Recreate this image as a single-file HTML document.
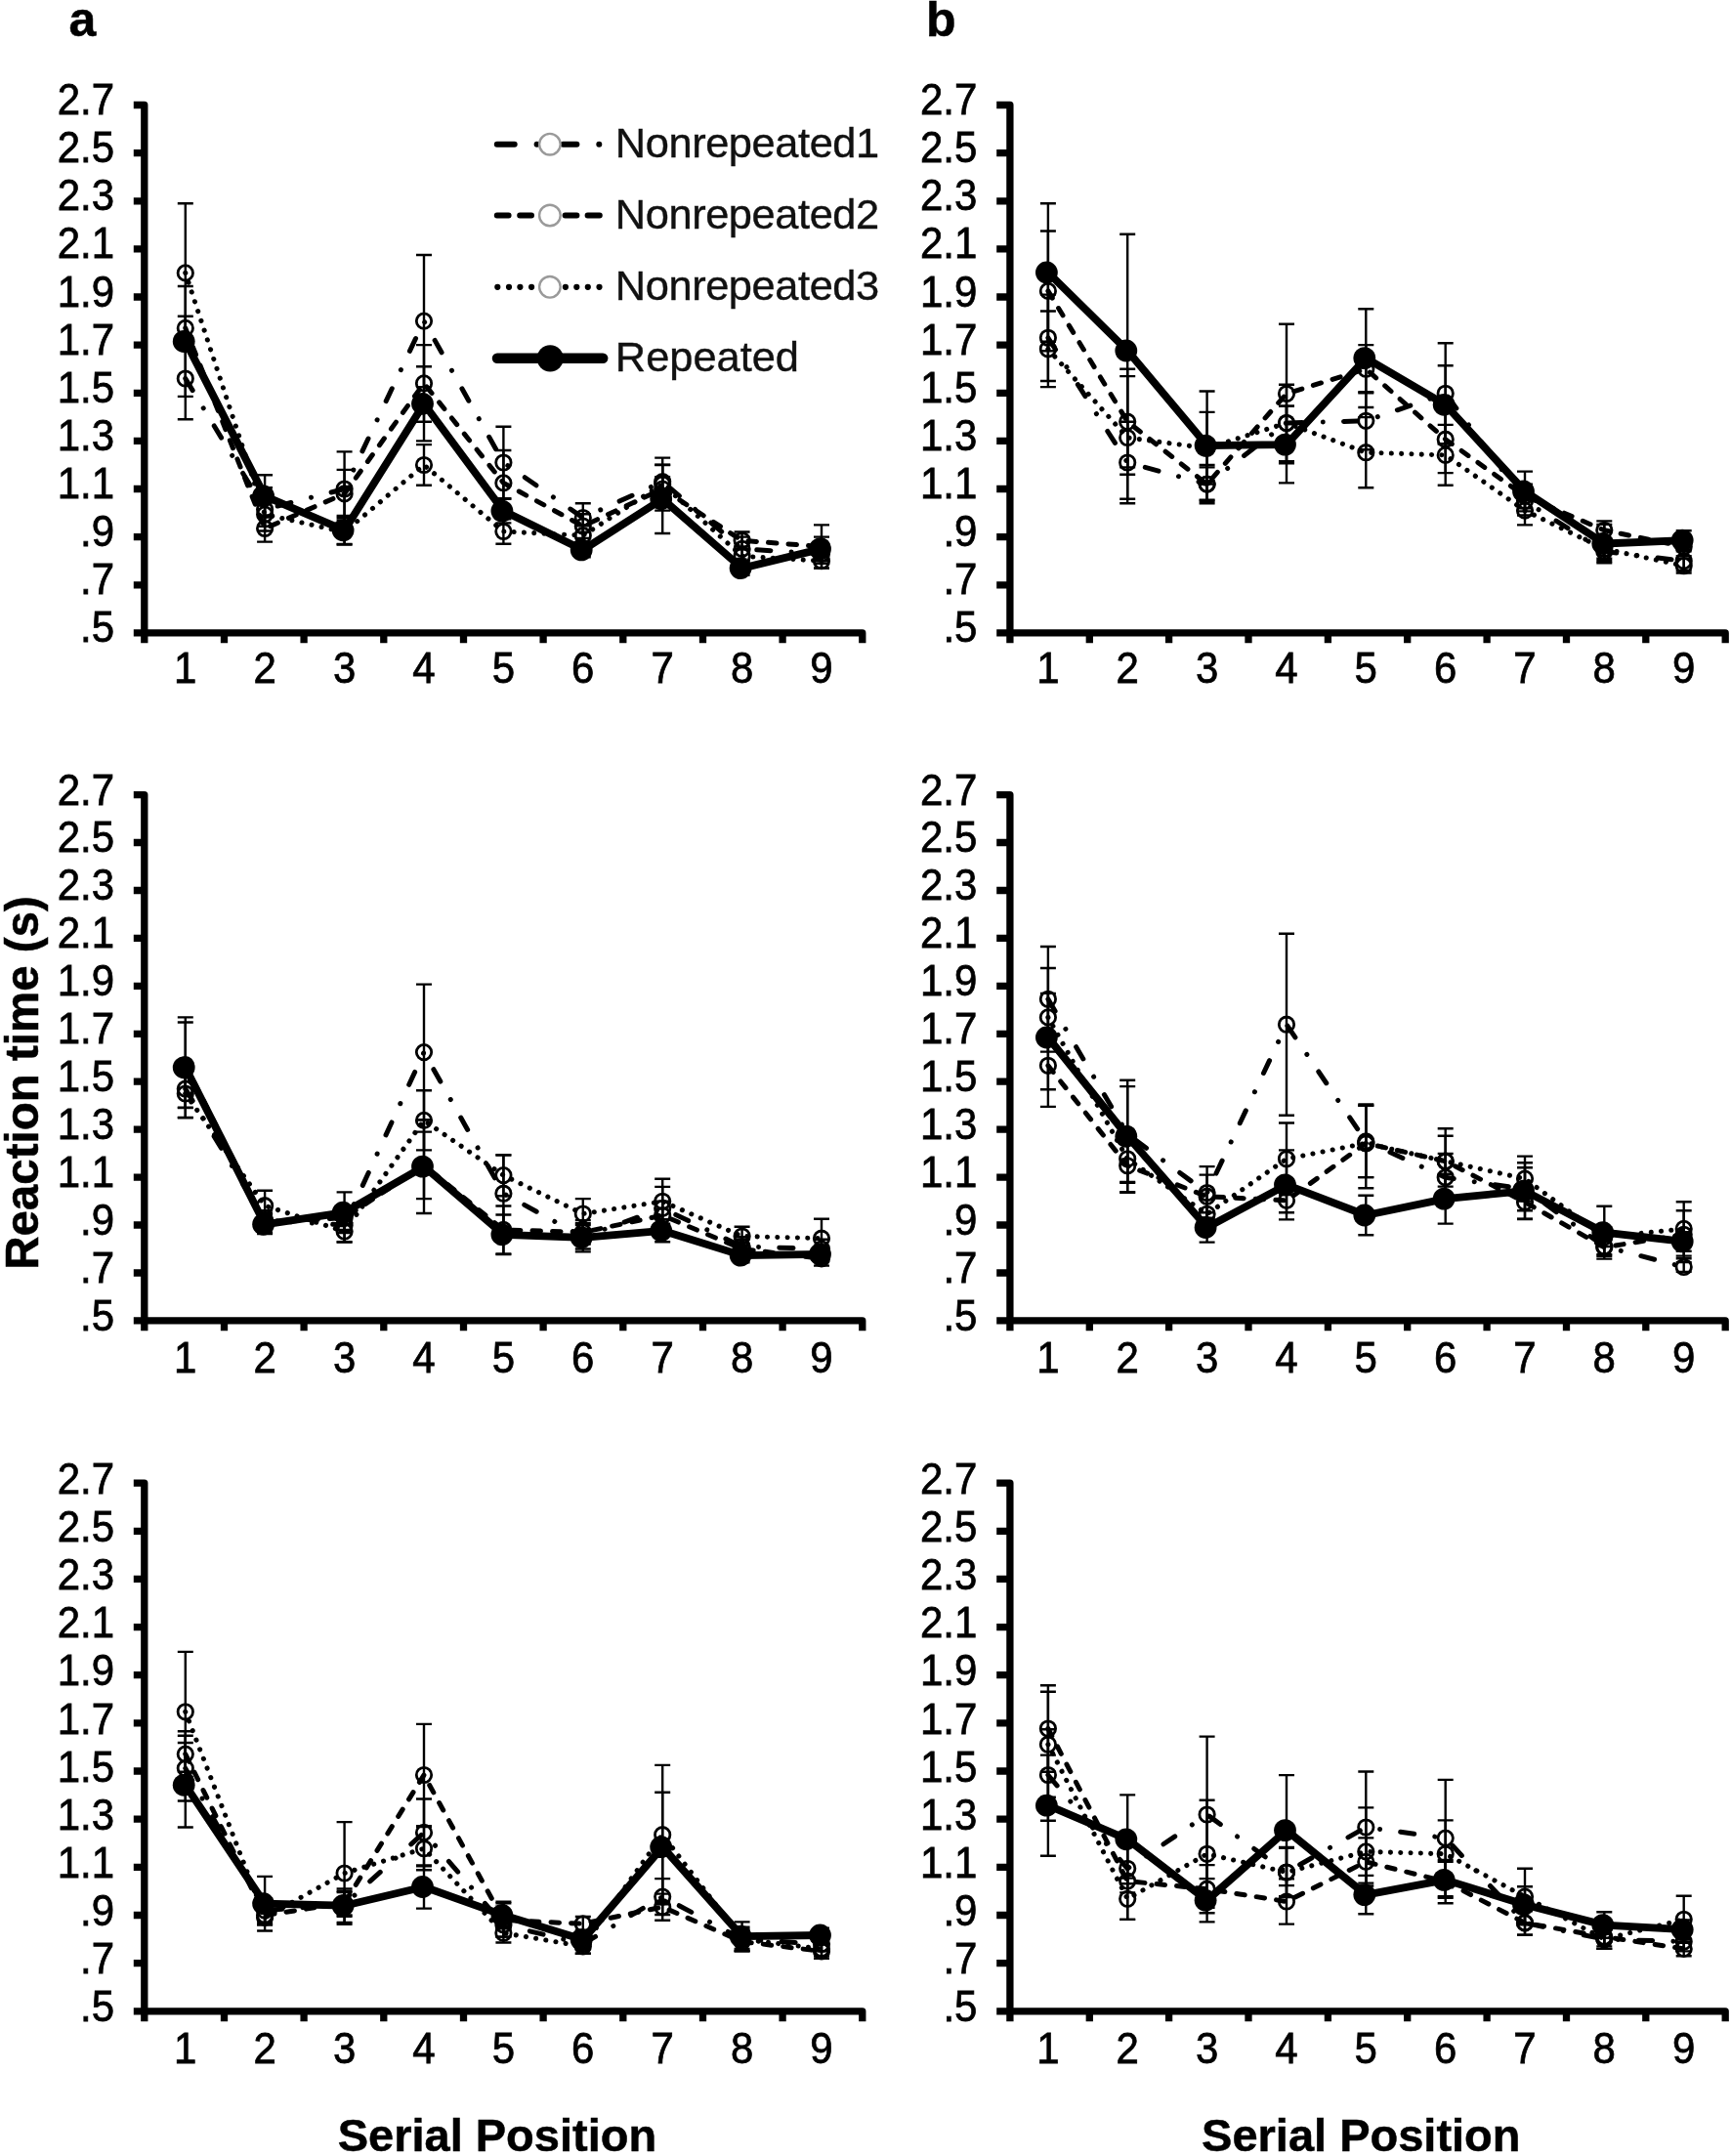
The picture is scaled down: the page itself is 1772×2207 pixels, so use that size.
<!DOCTYPE html>
<html lang="en"><head><meta charset="utf-8"><title>Reaction time by serial position</title>
<style>
html,body{margin:0;padding:0;background:#fff}
svg{display:block;filter:blur(.55px)}
text{font-family:"Liberation Sans",sans-serif;fill:#000}
.t{font-size:42px;stroke:#000;stroke-width:.7px}
.lt{font-size:43.4px;fill:#111;stroke:#111;stroke-width:.4px}
.b{font-weight:700;stroke:#000;stroke-width:.5px}
.ln{fill:none;stroke:#000}
.eb{fill:none;stroke:#000;stroke-width:2.4}
.om{fill:none;stroke:#000;stroke-width:2.8}
.fm{fill:#000}
.ax{fill:none;stroke:#000;stroke-width:7.3;stroke-linejoin:round}
</style></head><body>
<svg width="1772" height="2207" viewBox="0 0 1772 2207">
<rect width="1772" height="2207" fill="#fff"/>
<g>
<polyline class="ln" stroke-width="5" stroke-linecap="round" stroke-dasharray="14.2 21.25 0.01 21.25" points="189.8,387.5 271.1,521.4 352.6,500.5 434,328.6 515.4,473.5 596.8,530 678.2,493.1 759.6,561.9 841,566.8"/>
<polyline class="ln" stroke-width="5" stroke-linecap="round" stroke-dasharray="8.5 12.1" points="189.8,335.9 271.1,541 352.6,505.4 434,392.4 515.4,494.4 596.8,538.6 678.2,500.5 759.6,553.3 841,559.5"/>
<polyline class="ln" stroke-width="5.1" stroke-linecap="round" stroke-dasharray="0.01 10.3" points="189.8,279.4 271.1,526.6 352.6,544.7 434,476 515.4,544 596.8,548.2 678.2,495.6 759.6,569.3 841,574.2"/>
<polyline class="ln" stroke-width="7.8" stroke-linejoin="round" stroke-linecap="round" points="189.8,349.5 271.1,507.9 352.6,542.8 434,413.3 515.4,523.1 596.8,562.9 678.2,510.8 759.6,581.6 841,561.9"/>
<path class="eb" d="M189.8 345.8V429.3M181.8 345.8h16M181.8 429.3h16M271.1 499.3V543.5M263.1 499.3h16M263.1 543.5h16M352.6 462.4V538.6M344.6 462.4h16M344.6 538.6h16M434 261V396.1M426 261h16M426 396.1h16M515.4 436.7V510.3M507.4 436.7h16M507.4 510.3h16M596.8 515.3V544.7M588.8 515.3h16M588.8 544.7h16M678.2 476V510.3M670.2 476h16M670.2 510.3h16M759.6 549.6V574.2M751.6 549.6h16M751.6 574.2h16M841 557V576.7M833 557h16M833 576.7h16"/>
<path class="eb" d="M189.8 323.7V348.2M181.8 323.7h16M181.8 348.2h16M271.1 527.5V554.6M263.1 527.5h16M263.1 554.6h16M352.6 480.9V530M344.6 480.9h16M344.6 530h16M434 353.1V431.7M426 353.1h16M426 431.7h16M515.4 461V527.8M507.4 461h16M507.4 527.8h16M596.8 526.3V550.9M588.8 526.3h16M588.8 550.9h16M678.2 488.2V512.8M670.2 488.2h16M670.2 512.8h16M759.6 544.5V562.2M751.6 544.5h16M751.6 562.2h16M841 537.4V581.6M833 537.4h16M833 581.6h16"/>
<path class="eb" d="M189.8 208.2V350.7M181.8 208.2h16M181.8 350.7h16M271.1 514.3V538.8M263.1 514.3h16M263.1 538.8h16M352.6 532.5V557M344.6 532.5h16M344.6 557h16M434 455.1V496.8M426 455.1h16M426 496.8h16M515.4 531.2V556.8M507.4 531.2h16M507.4 556.8h16M596.8 538.3V558M588.8 538.3h16M588.8 558h16M678.2 468.6V522.6M670.2 468.6h16M670.2 522.6h16M759.6 559.5V579.1M751.6 559.5h16M751.6 579.1h16M841 566.8V581.6M833 566.8h16M833 581.6h16"/>
<path class="eb" d="M189.8 293V405.9M181.8 293h16M181.8 405.9h16M271.1 486.3V529.5M263.1 486.3h16M263.1 529.5h16M352.6 528V557.5M344.6 528h16M344.6 557.5h16M434 375.2V451.4M426 375.2h16M426 451.4h16M515.4 510.8V535.4M507.4 510.8h16M507.4 535.4h16M596.8 555.5V570.3M588.8 555.5h16M588.8 570.3h16M678.2 475.7V546M670.2 475.7h16M670.2 546h16M759.6 574.2V588.9M751.6 574.2h16M751.6 588.9h16M841 549.6V574.2M833 549.6h16M833 574.2h16"/>
<circle class="om" cx="189.8" cy="387.5" r="7.7"/>
<circle class="om" cx="271.1" cy="521.4" r="7.7"/>
<circle class="om" cx="352.6" cy="500.5" r="7.7"/>
<circle class="om" cx="434" cy="328.6" r="7.7"/>
<circle class="om" cx="515.4" cy="473.5" r="7.7"/>
<circle class="om" cx="596.8" cy="530" r="7.7"/>
<circle class="om" cx="678.2" cy="493.1" r="7.7"/>
<circle class="om" cx="759.6" cy="561.9" r="7.7"/>
<circle class="om" cx="841" cy="566.8" r="7.7"/>
<circle class="om" cx="189.8" cy="335.9" r="7.7"/>
<circle class="om" cx="271.1" cy="541" r="7.7"/>
<circle class="om" cx="352.6" cy="505.4" r="7.7"/>
<circle class="om" cx="434" cy="392.4" r="7.7"/>
<circle class="om" cx="515.4" cy="494.4" r="7.7"/>
<circle class="om" cx="596.8" cy="538.6" r="7.7"/>
<circle class="om" cx="678.2" cy="500.5" r="7.7"/>
<circle class="om" cx="759.6" cy="553.3" r="7.7"/>
<circle class="om" cx="841" cy="559.5" r="7.7"/>
<circle class="om" cx="189.8" cy="279.4" r="7.7"/>
<circle class="om" cx="271.1" cy="526.6" r="7.7"/>
<circle class="om" cx="352.6" cy="544.7" r="7.7"/>
<circle class="om" cx="434" cy="476" r="7.7"/>
<circle class="om" cx="515.4" cy="544" r="7.7"/>
<circle class="om" cx="596.8" cy="548.2" r="7.7"/>
<circle class="om" cx="678.2" cy="495.6" r="7.7"/>
<circle class="om" cx="759.6" cy="569.3" r="7.7"/>
<circle class="om" cx="841" cy="574.2" r="7.7"/>
<circle class="fm" cx="188.2" cy="349.5" r="11.4"/>
<circle class="fm" cx="269.6" cy="507.9" r="11.4"/>
<circle class="fm" cx="351.1" cy="542.8" r="11.4"/>
<circle class="fm" cx="432.5" cy="413.3" r="11.4"/>
<circle class="fm" cx="513.9" cy="523.1" r="11.4"/>
<circle class="fm" cx="595.2" cy="562.9" r="11.4"/>
<circle class="fm" cx="676.7" cy="510.8" r="11.4"/>
<circle class="fm" cx="758.1" cy="581.6" r="11.4"/>
<circle class="fm" cx="839.5" cy="561.9" r="11.4"/>
<path class="ax" d="M136.8 107.5H147.8V658.3M136.8 647.9H882.8V658.3M136.8 156.6H147.8M136.8 205.8H147.8M136.8 254.9H147.8M136.8 304H147.8M136.8 353.1H147.8M136.8 402.3H147.8M136.8 451.4H147.8M136.8 500.5H147.8M136.8 549.6H147.8M136.8 598.8H147.8M229.5 647.9V658.3M311.1 647.9V658.3M392.8 647.9V658.3M474.5 647.9V658.3M556.1 647.9V658.3M637.8 647.9V658.3M719.5 647.9V658.3M801.1 647.9V658.3"/>
<text class="t" text-anchor="end" transform="translate(117.1 117) scale(1 1.075)">2.7</text>
<text class="t" text-anchor="end" transform="translate(117.1 166.1) scale(1 1.075)">2.5</text>
<text class="t" text-anchor="end" transform="translate(117.1 215.3) scale(1 1.075)">2.3</text>
<text class="t" text-anchor="end" transform="translate(117.1 264.4) scale(1 1.075)">2.1</text>
<text class="t" text-anchor="end" transform="translate(117.1 313.5) scale(1 1.075)">1.9</text>
<text class="t" text-anchor="end" transform="translate(117.1 362.6) scale(1 1.075)">1.7</text>
<text class="t" text-anchor="end" transform="translate(117.1 411.8) scale(1 1.075)">1.5</text>
<text class="t" text-anchor="end" transform="translate(117.1 460.9) scale(1 1.075)">1.3</text>
<text class="t" text-anchor="end" transform="translate(117.1 510) scale(1 1.075)">1.1</text>
<text class="t" text-anchor="end" transform="translate(117.1 559.1) scale(1 1.075)">.9</text>
<text class="t" text-anchor="end" transform="translate(117.1 608.3) scale(1 1.075)">.7</text>
<text class="t" text-anchor="end" transform="translate(117.1 657.4) scale(1 1.075)">.5</text>
<text class="t" text-anchor="middle" transform="translate(189.8 698.5) scale(1 1.075)">1</text>
<text class="t" text-anchor="middle" transform="translate(271.1 698.5) scale(1 1.075)">2</text>
<text class="t" text-anchor="middle" transform="translate(352.6 698.5) scale(1 1.075)">3</text>
<text class="t" text-anchor="middle" transform="translate(434 698.5) scale(1 1.075)">4</text>
<text class="t" text-anchor="middle" transform="translate(515.4 698.5) scale(1 1.075)">5</text>
<text class="t" text-anchor="middle" transform="translate(596.8 698.5) scale(1 1.075)">6</text>
<text class="t" text-anchor="middle" transform="translate(678.2 698.5) scale(1 1.075)">7</text>
<text class="t" text-anchor="middle" transform="translate(759.6 698.5) scale(1 1.075)">8</text>
<text class="t" text-anchor="middle" transform="translate(841 698.5) scale(1 1.075)">9</text>
</g>
<g>
<polyline class="ln" stroke-width="5" stroke-linecap="round" stroke-dasharray="14.2 21.25 0.01 21.25" points="189.8,1114.6 271.1,1249.1 352.6,1254 434,1077.1 515.4,1221.7 596.8,1266.3 678.2,1236.9 759.6,1276 841,1278.5"/>
<polyline class="ln" stroke-width="5" stroke-linecap="round" stroke-dasharray="8.5 12.1" points="189.8,1090.1 271.1,1251.6 352.6,1246.7 434,1192.9 515.4,1258.9 596.8,1261.4 678.2,1244.2 759.6,1278.5 841,1288.3"/>
<polyline class="ln" stroke-width="5.1" stroke-linecap="round" stroke-dasharray="0.01 10.3" points="189.8,1119.5 271.1,1234.2 352.6,1260.6 434,1146.9 515.4,1203.1 596.8,1242.5 678.2,1229.8 759.6,1265.5 841,1267.7"/>
<polyline class="ln" stroke-width="7.8" stroke-linejoin="round" stroke-linecap="round" points="189.8,1092.8 271.1,1253.3 352.6,1241.2 434,1194.1 515.4,1263.8 596.8,1266.8 678.2,1259.8 759.6,1285.1 841,1283.9"/>
<path class="eb" d="M189.8 1095V1134.1M181.8 1095h16M181.8 1134.1h16M271.1 1239.3V1258.9M263.1 1239.3h16M263.1 1258.9h16M352.6 1236.9V1271.2M344.6 1236.9h16M344.6 1271.2h16M434 1007.6V1146.6M426 1007.6h16M426 1146.6h16M515.4 1182.6V1260.9M507.4 1182.6h16M507.4 1260.9h16M596.8 1254V1278.5M588.8 1254h16M588.8 1278.5h16M678.2 1214.9V1258.9M670.2 1214.9h16M670.2 1258.9h16M759.6 1266.3V1285.8M751.6 1266.3h16M751.6 1285.8h16M841 1268.7V1288.3M833 1268.7h16M833 1288.3h16"/>
<path class="eb" d="M189.8 1046.5V1133.6M181.8 1046.5h16M181.8 1133.6h16M271.1 1241.8V1261.4M263.1 1241.8h16M263.1 1261.4h16M352.6 1234.5V1258.9M344.6 1234.5h16M344.6 1258.9h16M434 1158.6V1227.1M426 1158.6h16M426 1227.1h16M515.4 1234.5V1283.4M507.4 1234.5h16M507.4 1283.4h16M596.8 1249.1V1273.6M588.8 1249.1h16M588.8 1273.6h16M678.2 1229.6V1258.9M670.2 1229.6h16M670.2 1258.9h16M759.6 1268.7V1288.3M751.6 1268.7h16M751.6 1288.3h16M841 1280.9V1295.6M833 1280.9h16M833 1295.6h16"/>
<path class="eb" d="M189.8 1095V1143.9M181.8 1095h16M181.8 1143.9h16M271.1 1218.8V1249.6M263.1 1218.8h16M263.1 1249.6h16M352.6 1249.6V1271.6M344.6 1249.6h16M344.6 1271.6h16M434 1116.3V1177.4M426 1116.3h16M426 1177.4h16M515.4 1182.1V1224.2M507.4 1182.1h16M507.4 1224.2h16M596.8 1227.1V1257.9M588.8 1227.1h16M588.8 1257.9h16M678.2 1206.8V1252.8M670.2 1206.8h16M670.2 1252.8h16M759.6 1255.7V1275.3M751.6 1255.7h16M751.6 1275.3h16M841 1247.7V1287.8M833 1247.7h16M833 1287.8h16"/>
<path class="eb" d="M189.8 1041.4V1144.2M181.8 1041.4h16M181.8 1144.2h16M271.1 1243.5V1263.1M263.1 1243.5h16M263.1 1263.1h16M352.6 1220.4V1262M344.6 1220.4h16M344.6 1262h16M434 1146.1V1242M426 1146.1h16M426 1242h16M515.4 1243.5V1284.1M507.4 1243.5h16M507.4 1284.1h16M596.8 1252.1V1281.4M588.8 1252.1h16M588.8 1281.4h16M678.2 1248.3V1271.3M670.2 1248.3h16M670.2 1271.3h16M759.6 1277.8V1292.4M751.6 1277.8h16M751.6 1292.4h16M841 1276.5V1291.2M833 1276.5h16M833 1291.2h16"/>
<circle class="om" cx="189.8" cy="1114.6" r="7.7"/>
<circle class="om" cx="271.1" cy="1249.1" r="7.7"/>
<circle class="om" cx="352.6" cy="1254" r="7.7"/>
<circle class="om" cx="434" cy="1077.1" r="7.7"/>
<circle class="om" cx="515.4" cy="1221.7" r="7.7"/>
<circle class="om" cx="596.8" cy="1266.3" r="7.7"/>
<circle class="om" cx="678.2" cy="1236.9" r="7.7"/>
<circle class="om" cx="759.6" cy="1276" r="7.7"/>
<circle class="om" cx="841" cy="1278.5" r="7.7"/>
<circle class="om" cx="189.8" cy="1090.1" r="7.7"/>
<circle class="om" cx="271.1" cy="1251.6" r="7.7"/>
<circle class="om" cx="352.6" cy="1246.7" r="7.7"/>
<circle class="om" cx="434" cy="1192.9" r="7.7"/>
<circle class="om" cx="515.4" cy="1258.9" r="7.7"/>
<circle class="om" cx="596.8" cy="1261.4" r="7.7"/>
<circle class="om" cx="678.2" cy="1244.2" r="7.7"/>
<circle class="om" cx="759.6" cy="1278.5" r="7.7"/>
<circle class="om" cx="841" cy="1288.3" r="7.7"/>
<circle class="om" cx="189.8" cy="1119.5" r="7.7"/>
<circle class="om" cx="271.1" cy="1234.2" r="7.7"/>
<circle class="om" cx="352.6" cy="1260.6" r="7.7"/>
<circle class="om" cx="434" cy="1146.9" r="7.7"/>
<circle class="om" cx="515.4" cy="1203.1" r="7.7"/>
<circle class="om" cx="596.8" cy="1242.5" r="7.7"/>
<circle class="om" cx="678.2" cy="1229.8" r="7.7"/>
<circle class="om" cx="759.6" cy="1265.5" r="7.7"/>
<circle class="om" cx="841" cy="1267.7" r="7.7"/>
<circle class="fm" cx="188.2" cy="1092.8" r="11.4"/>
<circle class="fm" cx="269.6" cy="1253.3" r="11.4"/>
<circle class="fm" cx="351.1" cy="1241.2" r="11.4"/>
<circle class="fm" cx="432.5" cy="1194.1" r="11.4"/>
<circle class="fm" cx="513.9" cy="1263.8" r="11.4"/>
<circle class="fm" cx="595.2" cy="1266.8" r="11.4"/>
<circle class="fm" cx="676.7" cy="1259.8" r="11.4"/>
<circle class="fm" cx="758.1" cy="1285.1" r="11.4"/>
<circle class="fm" cx="839.5" cy="1283.9" r="11.4"/>
<path class="ax" d="M136.8 813.6H147.8V1362.3M136.8 1351.9H882.8V1362.3M136.8 862.5H147.8M136.8 911.5H147.8M136.8 960.4H147.8M136.8 1009.3H147.8M136.8 1058.3H147.8M136.8 1107.2H147.8M136.8 1156.2H147.8M136.8 1205.1H147.8M136.8 1254H147.8M136.8 1303H147.8M229.5 1351.9V1362.3M311.1 1351.9V1362.3M392.8 1351.9V1362.3M474.5 1351.9V1362.3M556.1 1351.9V1362.3M637.8 1351.9V1362.3M719.5 1351.9V1362.3M801.1 1351.9V1362.3"/>
<text class="t" text-anchor="end" transform="translate(117.1 823.5) scale(1 1.075)">2.7</text>
<text class="t" text-anchor="end" transform="translate(117.1 872.4) scale(1 1.075)">2.5</text>
<text class="t" text-anchor="end" transform="translate(117.1 921.4) scale(1 1.075)">2.3</text>
<text class="t" text-anchor="end" transform="translate(117.1 970.3) scale(1 1.075)">2.1</text>
<text class="t" text-anchor="end" transform="translate(117.1 1019.2) scale(1 1.075)">1.9</text>
<text class="t" text-anchor="end" transform="translate(117.1 1068.2) scale(1 1.075)">1.7</text>
<text class="t" text-anchor="end" transform="translate(117.1 1117.1) scale(1 1.075)">1.5</text>
<text class="t" text-anchor="end" transform="translate(117.1 1166.1) scale(1 1.075)">1.3</text>
<text class="t" text-anchor="end" transform="translate(117.1 1215) scale(1 1.075)">1.1</text>
<text class="t" text-anchor="end" transform="translate(117.1 1263.9) scale(1 1.075)">.9</text>
<text class="t" text-anchor="end" transform="translate(117.1 1312.9) scale(1 1.075)">.7</text>
<text class="t" text-anchor="end" transform="translate(117.1 1361.8) scale(1 1.075)">.5</text>
<text class="t" text-anchor="middle" transform="translate(189.8 1405.1) scale(1 1.075)">1</text>
<text class="t" text-anchor="middle" transform="translate(271.1 1405.1) scale(1 1.075)">2</text>
<text class="t" text-anchor="middle" transform="translate(352.6 1405.1) scale(1 1.075)">3</text>
<text class="t" text-anchor="middle" transform="translate(434 1405.1) scale(1 1.075)">4</text>
<text class="t" text-anchor="middle" transform="translate(515.4 1405.1) scale(1 1.075)">5</text>
<text class="t" text-anchor="middle" transform="translate(596.8 1405.1) scale(1 1.075)">6</text>
<text class="t" text-anchor="middle" transform="translate(678.2 1405.1) scale(1 1.075)">7</text>
<text class="t" text-anchor="middle" transform="translate(759.6 1405.1) scale(1 1.075)">8</text>
<text class="t" text-anchor="middle" transform="translate(841 1405.1) scale(1 1.075)">9</text>
</g>
<g>
<polyline class="ln" stroke-width="5" stroke-linecap="round" stroke-dasharray="14.2 21.25 0.01 21.25" points="189.8,1810.1 271.1,1955.6 352.6,1949.4 434,1875.9 515.4,1970.3 596.8,1990 678.2,1941.6 759.6,1985.1 841,1990"/>
<polyline class="ln" stroke-width="5" stroke-linecap="round" stroke-dasharray="8.5 12.1" points="189.8,1795.6 271.1,1960.5 352.6,1948.2 434,1817 515.4,1965.4 596.8,1969.3 678.2,1952.1 759.6,1987.5 841,1997.4"/>
<polyline class="ln" stroke-width="5.1" stroke-linecap="round" stroke-dasharray="0.01 10.3" points="189.8,1752.3 271.1,1962.9 352.6,1917.5 434,1892.2 515.4,1978.7 596.8,1992.4 678.2,1878.2 759.6,1985.1 841,1994.9"/>
<polyline class="ln" stroke-width="7.8" stroke-linejoin="round" stroke-linecap="round" points="189.8,1827.3 271.1,1948.7 352.6,1950.7 434,1931.5 515.4,1960.5 596.8,1985.6 678.2,1890.7 759.6,1982.1 841,1981"/>
<path class="eb" d="M189.8 1776.7V1843.5M181.8 1776.7h16M181.8 1843.5h16M271.1 1943.3V1967.9M263.1 1943.3h16M263.1 1967.9h16M352.6 1937.1V1961.7M344.6 1937.1h16M344.6 1961.7h16M434 1841.5V1910.4M426 1841.5h16M426 1910.4h16M515.4 1958V1982.6M507.4 1958h16M507.4 1982.6h16M596.8 1980.2V1999.8M588.8 1980.2h16M588.8 1999.8h16M678.2 1923.1V1960M670.2 1923.1h16M670.2 1960h16M759.6 1975.2V1994.9M751.6 1975.2h16M751.6 1994.9h16M841 1982.6V1997.4M833 1982.6h16M833 1997.4h16"/>
<path class="eb" d="M189.8 1772.2V1818.9M181.8 1772.2h16M181.8 1818.9h16M271.1 1950.7V1970.3M263.1 1950.7h16M263.1 1970.3h16M352.6 1935.9V1960.5M344.6 1935.9h16M344.6 1960.5h16M434 1764.9V1869.1M426 1764.9h16M426 1869.1h16M515.4 1948.2V1982.6M507.4 1948.2h16M507.4 1982.6h16M596.8 1962V1976.7M588.8 1962h16M588.8 1976.7h16M678.2 1938.6V1965.7M670.2 1938.6h16M670.2 1965.7h16M759.6 1977.7V1997.4M751.6 1977.7h16M751.6 1997.4h16M841 1990V2004.7M833 1990h16M833 2004.7h16"/>
<path class="eb" d="M189.8 1690.9V1813.8M181.8 1690.9h16M181.8 1813.8h16M271.1 1955.6V1970.3M263.1 1955.6h16M263.1 1970.3h16M352.6 1865.1V1969.8M344.6 1865.1h16M344.6 1969.8h16M434 1870V1914.3M426 1870h16M426 1914.3h16M515.4 1968.8V1988.5M507.4 1968.8h16M507.4 1988.5h16M596.8 1985.1V1999.8M588.8 1985.1h16M588.8 1999.8h16M678.2 1806.9V1949.4M670.2 1806.9h16M670.2 1949.4h16M759.6 1972.8V1997.4M751.6 1972.8h16M751.6 1997.4h16M841 1987.5V2002.3M833 1987.5h16M833 2002.3h16"/>
<path class="eb" d="M189.8 1784V1870.5M181.8 1784h16M181.8 1870.5h16M271.1 1920.9V1976.5M263.1 1920.9h16M263.1 1976.5h16M352.6 1933.5V1967.9M344.6 1933.5h16M344.6 1967.9h16M434 1909.4V1953.6M426 1909.4h16M426 1953.6h16M515.4 1946.7V1974.3M507.4 1946.7h16M507.4 1974.3h16M596.8 1975.7V1995.4M588.8 1975.7h16M588.8 1995.4h16M678.2 1834.7V1946.7M670.2 1834.7h16M670.2 1946.7h16M759.6 1967.4V1996.9M751.6 1967.4h16M751.6 1996.9h16M841 1973.6V1988.4M833 1973.6h16M833 1988.4h16"/>
<circle class="om" cx="189.8" cy="1810.1" r="7.7"/>
<circle class="om" cx="271.1" cy="1955.6" r="7.7"/>
<circle class="om" cx="352.6" cy="1949.4" r="7.7"/>
<circle class="om" cx="434" cy="1875.9" r="7.7"/>
<circle class="om" cx="515.4" cy="1970.3" r="7.7"/>
<circle class="om" cx="596.8" cy="1990" r="7.7"/>
<circle class="om" cx="678.2" cy="1941.6" r="7.7"/>
<circle class="om" cx="759.6" cy="1985.1" r="7.7"/>
<circle class="om" cx="841" cy="1990" r="7.7"/>
<circle class="om" cx="189.8" cy="1795.6" r="7.7"/>
<circle class="om" cx="271.1" cy="1960.5" r="7.7"/>
<circle class="om" cx="352.6" cy="1948.2" r="7.7"/>
<circle class="om" cx="434" cy="1817" r="7.7"/>
<circle class="om" cx="515.4" cy="1965.4" r="7.7"/>
<circle class="om" cx="596.8" cy="1969.3" r="7.7"/>
<circle class="om" cx="678.2" cy="1952.1" r="7.7"/>
<circle class="om" cx="759.6" cy="1987.5" r="7.7"/>
<circle class="om" cx="841" cy="1997.4" r="7.7"/>
<circle class="om" cx="189.8" cy="1752.3" r="7.7"/>
<circle class="om" cx="271.1" cy="1962.9" r="7.7"/>
<circle class="om" cx="352.6" cy="1917.5" r="7.7"/>
<circle class="om" cx="434" cy="1892.2" r="7.7"/>
<circle class="om" cx="515.4" cy="1978.7" r="7.7"/>
<circle class="om" cx="596.8" cy="1992.4" r="7.7"/>
<circle class="om" cx="678.2" cy="1878.2" r="7.7"/>
<circle class="om" cx="759.6" cy="1985.1" r="7.7"/>
<circle class="om" cx="841" cy="1994.9" r="7.7"/>
<circle class="fm" cx="188.2" cy="1827.3" r="11.4"/>
<circle class="fm" cx="269.6" cy="1948.7" r="11.4"/>
<circle class="fm" cx="351.1" cy="1950.7" r="11.4"/>
<circle class="fm" cx="432.5" cy="1931.5" r="11.4"/>
<circle class="fm" cx="513.9" cy="1960.5" r="11.4"/>
<circle class="fm" cx="595.2" cy="1985.6" r="11.4"/>
<circle class="fm" cx="676.7" cy="1890.7" r="11.4"/>
<circle class="fm" cx="758.1" cy="1982.1" r="11.4"/>
<circle class="fm" cx="839.5" cy="1981" r="11.4"/>
<path class="ax" d="M136.8 1518.1H147.8V2069.2M136.8 2058.8H882.8V2069.2M136.8 1567.3H147.8M136.8 1616.4H147.8M136.8 1665.6H147.8M136.8 1714.7H147.8M136.8 1763.9H147.8M136.8 1813H147.8M136.8 1862.2H147.8M136.8 1911.3H147.8M136.8 1960.5H147.8M136.8 2009.6H147.8M229.5 2058.8V2069.2M311.1 2058.8V2069.2M392.8 2058.8V2069.2M474.5 2058.8V2069.2M556.1 2058.8V2069.2M637.8 2058.8V2069.2M719.5 2058.8V2069.2M801.1 2058.8V2069.2"/>
<text class="t" text-anchor="end" transform="translate(117.1 1528.7) scale(1 1.075)">2.7</text>
<text class="t" text-anchor="end" transform="translate(117.1 1577.9) scale(1 1.075)">2.5</text>
<text class="t" text-anchor="end" transform="translate(117.1 1627) scale(1 1.075)">2.3</text>
<text class="t" text-anchor="end" transform="translate(117.1 1676.2) scale(1 1.075)">2.1</text>
<text class="t" text-anchor="end" transform="translate(117.1 1725.3) scale(1 1.075)">1.9</text>
<text class="t" text-anchor="end" transform="translate(117.1 1774.5) scale(1 1.075)">1.7</text>
<text class="t" text-anchor="end" transform="translate(117.1 1823.6) scale(1 1.075)">1.5</text>
<text class="t" text-anchor="end" transform="translate(117.1 1872.8) scale(1 1.075)">1.3</text>
<text class="t" text-anchor="end" transform="translate(117.1 1921.9) scale(1 1.075)">1.1</text>
<text class="t" text-anchor="end" transform="translate(117.1 1971.1) scale(1 1.075)">.9</text>
<text class="t" text-anchor="end" transform="translate(117.1 2020.2) scale(1 1.075)">.7</text>
<text class="t" text-anchor="end" transform="translate(117.1 2069.4) scale(1 1.075)">.5</text>
<text class="t" text-anchor="middle" transform="translate(189.8 2111.6) scale(1 1.075)">1</text>
<text class="t" text-anchor="middle" transform="translate(271.1 2111.6) scale(1 1.075)">2</text>
<text class="t" text-anchor="middle" transform="translate(352.6 2111.6) scale(1 1.075)">3</text>
<text class="t" text-anchor="middle" transform="translate(434 2111.6) scale(1 1.075)">4</text>
<text class="t" text-anchor="middle" transform="translate(515.4 2111.6) scale(1 1.075)">5</text>
<text class="t" text-anchor="middle" transform="translate(596.8 2111.6) scale(1 1.075)">6</text>
<text class="t" text-anchor="middle" transform="translate(678.2 2111.6) scale(1 1.075)">7</text>
<text class="t" text-anchor="middle" transform="translate(759.6 2111.6) scale(1 1.075)">8</text>
<text class="t" text-anchor="middle" transform="translate(841 2111.6) scale(1 1.075)">9</text>
</g>
<g>
<polyline class="ln" stroke-width="5" stroke-linecap="round" stroke-dasharray="14.2 21.25 0.01 21.25" points="1072.9,345.8 1154.2,473.5 1235.6,495.6 1317,433 1398.3,430.8 1479.7,402.8 1561,512.8 1642.3,564.4 1723.7,574.2"/>
<polyline class="ln" stroke-width="5" stroke-linecap="round" stroke-dasharray="8.5 12.1" points="1072.9,297.9 1154.2,431.7 1235.6,495.6 1317,403 1398.3,377.7 1479.7,449.7 1561,507.9 1642.3,542.8 1723.7,559.5"/>
<polyline class="ln" stroke-width="5.1" stroke-linecap="round" stroke-dasharray="0.01 10.3" points="1072.9,357.3 1154.2,448 1235.6,458.8 1317,433 1398.3,463.2 1479.7,465.9 1561,522.6 1642.3,561.9 1723.7,579.1"/>
<polyline class="ln" stroke-width="7.8" stroke-linejoin="round" stroke-linecap="round" points="1072.9,279 1154.2,359 1235.6,456.1 1317,455.1 1398.3,366.6 1479.7,414.3 1561,503 1642.3,556.5 1723.7,553.1"/>
<path class="eb" d="M1072.9 301.6V390M1064.9 301.6h16M1064.9 390h16M1154.2 431.7V515.3M1146.2 431.7h16M1146.2 515.3h16M1235.6 478.4V512.8M1227.6 478.4h16M1227.6 512.8h16M1317 393.7V472.3M1309 393.7h16M1309 472.3h16M1398.3 401.3V460.2M1390.3 401.3h16M1390.3 460.2h16M1479.7 351.2V454.3M1471.7 351.2h16M1471.7 454.3h16M1561 498.1V527.5M1553 498.1h16M1553 527.5h16M1642.3 554.6V574.2M1634.3 554.6h16M1634.3 574.2h16M1723.7 564.4V584M1715.7 564.4h16M1715.7 584h16"/>
<path class="eb" d="M1072.9 236.5V359.3M1064.9 236.5h16M1064.9 359.3h16M1154.2 377.7V485.8M1146.2 377.7h16M1146.2 485.8h16M1235.6 476V515.3M1227.6 476h16M1227.6 515.3h16M1317 331.8V474.2M1309 331.8h16M1309 474.2h16M1398.3 353.1V402.3M1390.3 353.1h16M1390.3 402.3h16M1479.7 415.3V484.1M1471.7 415.3h16M1471.7 484.1h16M1561 495.6V520.2M1553 495.6h16M1553 520.2h16M1642.3 533.4V552.1M1634.3 533.4h16M1634.3 552.1h16M1723.7 549.6V569.3M1715.7 549.6h16M1715.7 569.3h16"/>
<path class="eb" d="M1072.9 318.5V396.1M1064.9 318.5h16M1064.9 396.1h16M1154.2 385.1V510.8M1146.2 385.1h16M1146.2 510.8h16M1235.6 421.9V495.6M1227.6 421.9h16M1227.6 495.6h16M1317 415.8V450.2M1309 415.8h16M1309 450.2h16M1398.3 427.1V499.3M1390.3 427.1h16M1390.3 499.3h16M1479.7 434.9V496.8M1471.7 434.9h16M1471.7 496.8h16M1561 507.9V537.4M1553 507.9h16M1553 537.4h16M1642.3 552.1V571.8M1634.3 552.1h16M1634.3 571.8h16M1723.7 571.8V586.5M1715.7 571.8h16M1715.7 586.5h16"/>
<path class="eb" d="M1072.9 208.2V349.7M1064.9 208.2h16M1064.9 349.7h16M1154.2 239.7V478.4M1146.2 239.7h16M1146.2 478.4h16M1235.6 400.5V511.6M1227.6 400.5h16M1227.6 511.6h16M1317 415.8V494.4M1309 415.8h16M1309 494.4h16M1398.3 316.3V417M1390.3 316.3h16M1390.3 417h16M1479.7 374.3V454.3M1471.7 374.3h16M1471.7 454.3h16M1561 482.6V523.4M1553 482.6h16M1553 523.4h16M1642.3 536.9V576.2M1634.3 536.9h16M1634.3 576.2h16M1723.7 543.3V562.9M1715.7 543.3h16M1715.7 562.9h16"/>
<circle class="om" cx="1072.9" cy="345.8" r="7.7"/>
<circle class="om" cx="1154.2" cy="473.5" r="7.7"/>
<circle class="om" cx="1235.6" cy="495.6" r="7.7"/>
<circle class="om" cx="1317" cy="433" r="7.7"/>
<circle class="om" cx="1398.3" cy="430.8" r="7.7"/>
<circle class="om" cx="1479.7" cy="402.8" r="7.7"/>
<circle class="om" cx="1561" cy="512.8" r="7.7"/>
<circle class="om" cx="1642.3" cy="564.4" r="7.7"/>
<circle class="om" cx="1723.7" cy="574.2" r="7.7"/>
<circle class="om" cx="1072.9" cy="297.9" r="7.7"/>
<circle class="om" cx="1154.2" cy="431.7" r="7.7"/>
<circle class="om" cx="1235.6" cy="495.6" r="7.7"/>
<circle class="om" cx="1317" cy="403" r="7.7"/>
<circle class="om" cx="1398.3" cy="377.7" r="7.7"/>
<circle class="om" cx="1479.7" cy="449.7" r="7.7"/>
<circle class="om" cx="1561" cy="507.9" r="7.7"/>
<circle class="om" cx="1642.3" cy="542.8" r="7.7"/>
<circle class="om" cx="1723.7" cy="559.5" r="7.7"/>
<circle class="om" cx="1072.9" cy="357.3" r="7.7"/>
<circle class="om" cx="1154.2" cy="448" r="7.7"/>
<circle class="om" cx="1235.6" cy="458.8" r="7.7"/>
<circle class="om" cx="1317" cy="433" r="7.7"/>
<circle class="om" cx="1398.3" cy="463.2" r="7.7"/>
<circle class="om" cx="1479.7" cy="465.9" r="7.7"/>
<circle class="om" cx="1561" cy="522.6" r="7.7"/>
<circle class="om" cx="1642.3" cy="561.9" r="7.7"/>
<circle class="om" cx="1723.7" cy="579.1" r="7.7"/>
<circle class="fm" cx="1071.4" cy="279" r="11.4"/>
<circle class="fm" cx="1152.8" cy="359" r="11.4"/>
<circle class="fm" cx="1234.1" cy="456.1" r="11.4"/>
<circle class="fm" cx="1315.5" cy="455.1" r="11.4"/>
<circle class="fm" cx="1396.8" cy="366.6" r="11.4"/>
<circle class="fm" cx="1478.2" cy="414.3" r="11.4"/>
<circle class="fm" cx="1559.5" cy="503" r="11.4"/>
<circle class="fm" cx="1640.8" cy="556.5" r="11.4"/>
<circle class="fm" cx="1722.2" cy="553.1" r="11.4"/>
<path class="ax" d="M1020.2 107.5H1033.9V658.3M1020.2 647.9H1766.2V658.3M1020.2 156.6H1033.9M1020.2 205.8H1033.9M1020.2 254.9H1033.9M1020.2 304H1033.9M1020.2 353.1H1033.9M1020.2 402.3H1033.9M1020.2 451.4H1033.9M1020.2 500.5H1033.9M1020.2 549.6H1033.9M1020.2 598.8H1033.9M1115.3 647.9V658.3M1196.6 647.9V658.3M1278 647.9V658.3M1359.4 647.9V658.3M1440.7 647.9V658.3M1522.1 647.9V658.3M1603.5 647.9V658.3M1684.8 647.9V658.3"/>
<text class="t" text-anchor="end" transform="translate(1000.4 117) scale(1 1.075)">2.7</text>
<text class="t" text-anchor="end" transform="translate(1000.4 166.1) scale(1 1.075)">2.5</text>
<text class="t" text-anchor="end" transform="translate(1000.4 215.3) scale(1 1.075)">2.3</text>
<text class="t" text-anchor="end" transform="translate(1000.4 264.4) scale(1 1.075)">2.1</text>
<text class="t" text-anchor="end" transform="translate(1000.4 313.5) scale(1 1.075)">1.9</text>
<text class="t" text-anchor="end" transform="translate(1000.4 362.6) scale(1 1.075)">1.7</text>
<text class="t" text-anchor="end" transform="translate(1000.4 411.8) scale(1 1.075)">1.5</text>
<text class="t" text-anchor="end" transform="translate(1000.4 460.9) scale(1 1.075)">1.3</text>
<text class="t" text-anchor="end" transform="translate(1000.4 510) scale(1 1.075)">1.1</text>
<text class="t" text-anchor="end" transform="translate(1000.4 559.1) scale(1 1.075)">.9</text>
<text class="t" text-anchor="end" transform="translate(1000.4 608.3) scale(1 1.075)">.7</text>
<text class="t" text-anchor="end" transform="translate(1000.4 657.4) scale(1 1.075)">.5</text>
<text class="t" text-anchor="middle" transform="translate(1072.9 698.5) scale(1 1.075)">1</text>
<text class="t" text-anchor="middle" transform="translate(1154.2 698.5) scale(1 1.075)">2</text>
<text class="t" text-anchor="middle" transform="translate(1235.6 698.5) scale(1 1.075)">3</text>
<text class="t" text-anchor="middle" transform="translate(1317 698.5) scale(1 1.075)">4</text>
<text class="t" text-anchor="middle" transform="translate(1398.3 698.5) scale(1 1.075)">5</text>
<text class="t" text-anchor="middle" transform="translate(1479.7 698.5) scale(1 1.075)">6</text>
<text class="t" text-anchor="middle" transform="translate(1561 698.5) scale(1 1.075)">7</text>
<text class="t" text-anchor="middle" transform="translate(1642.3 698.5) scale(1 1.075)">8</text>
<text class="t" text-anchor="middle" transform="translate(1723.7 698.5) scale(1 1.075)">9</text>
</g>
<g>
<polyline class="ln" stroke-width="5" stroke-linecap="round" stroke-dasharray="14.2 21.25 0.01 21.25" points="1072.9,1022.8 1154.2,1161 1235.6,1221 1317,1048.7 1398.3,1168.4 1479.7,1205.3 1561,1217.3 1642.3,1276 1723.7,1297"/>
<polyline class="ln" stroke-width="5" stroke-linecap="round" stroke-dasharray="8.5 12.1" points="1072.9,1090.8 1154.2,1193.3 1235.6,1224.7 1317,1228.9 1398.3,1170.3 1479.7,1188.7 1561,1230.5 1642.3,1276.8 1723.7,1263.8"/>
<polyline class="ln" stroke-width="5.1" stroke-linecap="round" stroke-dasharray="0.01 10.3" points="1072.9,1041.4 1154.2,1186.3 1235.6,1242.8 1317,1186.3 1398.3,1170.3 1479.7,1188.7 1561,1206.6 1642.3,1266.3 1723.7,1257.9"/>
<polyline class="ln" stroke-width="7.8" stroke-linejoin="round" stroke-linecap="round" points="1072.9,1062 1154.2,1163.3 1235.6,1256.5 1317,1212.9 1398.3,1244 1479.7,1227.1 1561,1219.1 1642.3,1261.7 1723.7,1270.9"/>
<path class="eb" d="M1072.9 969V1076.6M1064.9 969h16M1064.9 1076.6h16M1154.2 1112.1V1210M1146.2 1112.1h16M1146.2 1210h16M1235.6 1194.1V1247.9M1227.6 1194.1h16M1227.6 1247.9h16M1317 955.8V1141.7M1309 955.8h16M1309 1141.7h16M1398.3 1131.7V1205.1M1390.3 1131.7h16M1390.3 1205.1h16M1479.7 1180.9V1229.8M1471.7 1180.9h16M1471.7 1229.8h16M1561 1195.3V1239.3M1553 1195.3h16M1553 1239.3h16M1642.3 1266.3V1285.8M1634.3 1266.3h16M1634.3 1285.8h16M1723.7 1292.1V1301.9M1715.7 1292.1h16M1715.7 1301.9h16"/>
<path class="eb" d="M1072.9 1066.4V1115.3M1064.9 1066.4h16M1064.9 1115.3h16M1154.2 1166.4V1220.3M1146.2 1166.4h16M1146.2 1220.3h16M1235.6 1202.6V1246.7M1227.6 1202.6h16M1227.6 1246.7h16M1317 1216.7V1241.2M1309 1216.7h16M1309 1241.2h16M1398.3 1131.7V1205.1M1390.3 1131.7h16M1390.3 1205.1h16M1479.7 1155.2V1222.2M1471.7 1155.2h16M1471.7 1222.2h16M1561 1213.4V1247.7M1553 1213.4h16M1553 1247.7h16M1642.3 1269.4V1284.1M1634.3 1269.4h16M1634.3 1284.1h16M1723.7 1239.3V1288.3M1715.7 1239.3h16M1715.7 1288.3h16"/>
<path class="eb" d="M1072.9 1016.9V1065.9M1064.9 1016.9h16M1064.9 1065.9h16M1154.2 1161.8V1210.7M1146.2 1161.8h16M1146.2 1210.7h16M1235.6 1228.1V1257.5M1227.6 1228.1h16M1227.6 1257.5h16M1317 1149.5V1223M1309 1149.5h16M1309 1223h16M1398.3 1130.5V1216.3M1390.3 1130.5h16M1390.3 1216.3h16M1479.7 1162.8V1214.6M1471.7 1162.8h16M1471.7 1214.6h16M1561 1183.6V1229.6M1553 1183.6h16M1553 1229.6h16M1642.3 1256.5V1276M1634.3 1256.5h16M1634.3 1276h16M1723.7 1230.3V1285.6M1715.7 1230.3h16M1715.7 1285.6h16"/>
<path class="eb" d="M1072.9 991V1132.9M1064.9 991h16M1064.9 1132.9h16M1154.2 1105.8V1220.8M1146.2 1105.8h16M1146.2 1220.8h16M1235.6 1241.3V1271.6M1227.6 1241.3h16M1227.6 1271.6h16M1317 1177.4V1248.4M1309 1177.4h16M1309 1248.4h16M1398.3 1223.7V1264.3M1390.3 1223.7h16M1390.3 1264.3h16M1479.7 1201.7V1252.6M1471.7 1201.7h16M1471.7 1252.6h16M1561 1190.3V1248M1553 1190.3h16M1553 1248h16M1642.3 1234.8V1288.6M1634.3 1234.8h16M1634.3 1288.6h16M1723.7 1261.1V1280.7M1715.7 1261.1h16M1715.7 1280.7h16"/>
<circle class="om" cx="1072.9" cy="1022.8" r="7.7"/>
<circle class="om" cx="1154.2" cy="1161" r="7.7"/>
<circle class="om" cx="1235.6" cy="1221" r="7.7"/>
<circle class="om" cx="1317" cy="1048.7" r="7.7"/>
<circle class="om" cx="1398.3" cy="1168.4" r="7.7"/>
<circle class="om" cx="1479.7" cy="1205.3" r="7.7"/>
<circle class="om" cx="1561" cy="1217.3" r="7.7"/>
<circle class="om" cx="1642.3" cy="1276" r="7.7"/>
<circle class="om" cx="1723.7" cy="1297" r="7.7"/>
<circle class="om" cx="1072.9" cy="1090.8" r="7.7"/>
<circle class="om" cx="1154.2" cy="1193.3" r="7.7"/>
<circle class="om" cx="1235.6" cy="1224.7" r="7.7"/>
<circle class="om" cx="1317" cy="1228.9" r="7.7"/>
<circle class="om" cx="1398.3" cy="1170.3" r="7.7"/>
<circle class="om" cx="1479.7" cy="1188.7" r="7.7"/>
<circle class="om" cx="1561" cy="1230.5" r="7.7"/>
<circle class="om" cx="1642.3" cy="1276.8" r="7.7"/>
<circle class="om" cx="1723.7" cy="1263.8" r="7.7"/>
<circle class="om" cx="1072.9" cy="1041.4" r="7.7"/>
<circle class="om" cx="1154.2" cy="1186.3" r="7.7"/>
<circle class="om" cx="1235.6" cy="1242.8" r="7.7"/>
<circle class="om" cx="1317" cy="1186.3" r="7.7"/>
<circle class="om" cx="1398.3" cy="1170.3" r="7.7"/>
<circle class="om" cx="1479.7" cy="1188.7" r="7.7"/>
<circle class="om" cx="1561" cy="1206.6" r="7.7"/>
<circle class="om" cx="1642.3" cy="1266.3" r="7.7"/>
<circle class="om" cx="1723.7" cy="1257.9" r="7.7"/>
<circle class="fm" cx="1071.4" cy="1062" r="11.4"/>
<circle class="fm" cx="1152.8" cy="1163.3" r="11.4"/>
<circle class="fm" cx="1234.1" cy="1256.5" r="11.4"/>
<circle class="fm" cx="1315.5" cy="1212.9" r="11.4"/>
<circle class="fm" cx="1396.8" cy="1244" r="11.4"/>
<circle class="fm" cx="1478.2" cy="1227.1" r="11.4"/>
<circle class="fm" cx="1559.5" cy="1219.1" r="11.4"/>
<circle class="fm" cx="1640.8" cy="1261.7" r="11.4"/>
<circle class="fm" cx="1722.2" cy="1270.9" r="11.4"/>
<path class="ax" d="M1020.2 813.6H1033.9V1362.3M1020.2 1351.9H1766.2V1362.3M1020.2 862.5H1033.9M1020.2 911.5H1033.9M1020.2 960.4H1033.9M1020.2 1009.3H1033.9M1020.2 1058.3H1033.9M1020.2 1107.2H1033.9M1020.2 1156.2H1033.9M1020.2 1205.1H1033.9M1020.2 1254H1033.9M1020.2 1303H1033.9M1115.3 1351.9V1362.3M1196.6 1351.9V1362.3M1278 1351.9V1362.3M1359.4 1351.9V1362.3M1440.7 1351.9V1362.3M1522.1 1351.9V1362.3M1603.5 1351.9V1362.3M1684.8 1351.9V1362.3"/>
<text class="t" text-anchor="end" transform="translate(1000.4 823.5) scale(1 1.075)">2.7</text>
<text class="t" text-anchor="end" transform="translate(1000.4 872.4) scale(1 1.075)">2.5</text>
<text class="t" text-anchor="end" transform="translate(1000.4 921.4) scale(1 1.075)">2.3</text>
<text class="t" text-anchor="end" transform="translate(1000.4 970.3) scale(1 1.075)">2.1</text>
<text class="t" text-anchor="end" transform="translate(1000.4 1019.2) scale(1 1.075)">1.9</text>
<text class="t" text-anchor="end" transform="translate(1000.4 1068.2) scale(1 1.075)">1.7</text>
<text class="t" text-anchor="end" transform="translate(1000.4 1117.1) scale(1 1.075)">1.5</text>
<text class="t" text-anchor="end" transform="translate(1000.4 1166.1) scale(1 1.075)">1.3</text>
<text class="t" text-anchor="end" transform="translate(1000.4 1215) scale(1 1.075)">1.1</text>
<text class="t" text-anchor="end" transform="translate(1000.4 1263.9) scale(1 1.075)">.9</text>
<text class="t" text-anchor="end" transform="translate(1000.4 1312.9) scale(1 1.075)">.7</text>
<text class="t" text-anchor="end" transform="translate(1000.4 1361.8) scale(1 1.075)">.5</text>
<text class="t" text-anchor="middle" transform="translate(1072.9 1405.1) scale(1 1.075)">1</text>
<text class="t" text-anchor="middle" transform="translate(1154.2 1405.1) scale(1 1.075)">2</text>
<text class="t" text-anchor="middle" transform="translate(1235.6 1405.1) scale(1 1.075)">3</text>
<text class="t" text-anchor="middle" transform="translate(1317 1405.1) scale(1 1.075)">4</text>
<text class="t" text-anchor="middle" transform="translate(1398.3 1405.1) scale(1 1.075)">5</text>
<text class="t" text-anchor="middle" transform="translate(1479.7 1405.1) scale(1 1.075)">6</text>
<text class="t" text-anchor="middle" transform="translate(1561 1405.1) scale(1 1.075)">7</text>
<text class="t" text-anchor="middle" transform="translate(1642.3 1405.1) scale(1 1.075)">8</text>
<text class="t" text-anchor="middle" transform="translate(1723.7 1405.1) scale(1 1.075)">9</text>
</g>
<g>
<polyline class="ln" stroke-width="5" stroke-linecap="round" stroke-dasharray="14.2 21.25 0.01 21.25" points="1072.9,1817 1154.2,1912.8 1235.6,1857.5 1317,1916.5 1398.3,1870.5 1479.7,1881.6 1561,1968.4 1642.3,1985.1 1723.7,1987.5"/>
<polyline class="ln" stroke-width="5" stroke-linecap="round" stroke-dasharray="8.5 12.1" points="1072.9,1769.5 1154.2,1925.6 1235.6,1933.7 1317,1946.5 1398.3,1905.9 1479.7,1926.1 1561,1968.4 1642.3,1982.6 1723.7,1994.9"/>
<polyline class="ln" stroke-width="5.1" stroke-linecap="round" stroke-dasharray="0.01 10.3" points="1072.9,1785.7 1154.2,1943.8 1235.6,1897.8 1317,1916.5 1398.3,1895.4 1479.7,1897.8 1561,1941.6 1642.3,1985.1 1723.7,1964.8"/>
<polyline class="ln" stroke-width="7.8" stroke-linejoin="round" stroke-linecap="round" points="1072.9,1848.2 1154.2,1882.8 1235.6,1945.3 1317,1873.6 1398.3,1939.6 1479.7,1924.4 1561,1949.7 1642.3,1970.6 1723.7,1975.2"/>
<path class="eb" d="M1072.9 1770.3V1863.7M1064.9 1770.3h16M1064.9 1863.7h16M1154.2 1888.2V1937.4M1146.2 1888.2h16M1146.2 1937.4h16M1235.6 1777.6V1937.4M1227.6 1777.6h16M1227.6 1937.4h16M1317 1891.9V1941.1M1309 1891.9h16M1309 1941.1h16M1398.3 1813.5V1927.6M1390.3 1813.5h16M1390.3 1927.6h16M1479.7 1821.9V1941.3M1471.7 1821.9h16M1471.7 1941.3h16M1561 1956.1V1980.6M1553 1956.1h16M1553 1980.6h16M1642.3 1975.2V1994.9M1634.3 1975.2h16M1634.3 1994.9h16M1723.7 1977.7V1997.4M1715.7 1977.7h16M1715.7 1997.4h16"/>
<path class="eb" d="M1072.9 1725.3V1813.8M1064.9 1725.3h16M1064.9 1813.8h16M1154.2 1886.3V1964.9M1146.2 1886.3h16M1146.2 1964.9h16M1235.6 1909.1V1958.3M1227.6 1909.1h16M1227.6 1958.3h16M1317 1923.4V1969.6M1309 1923.4h16M1309 1969.6h16M1398.3 1881.4V1930.5M1390.3 1881.4h16M1390.3 1930.5h16M1479.7 1904V1948.2M1471.7 1904h16M1471.7 1948.2h16M1561 1956.1V1980.6M1553 1956.1h16M1553 1980.6h16M1642.3 1972.8V1992.4M1634.3 1972.8h16M1634.3 1992.4h16M1723.7 1987.5V2002.3M1715.7 1987.5h16M1715.7 2002.3h16"/>
<path class="eb" d="M1072.9 1731.7V1839.8M1064.9 1731.7h16M1064.9 1839.8h16M1154.2 1922.6V1964.9M1146.2 1922.6h16M1146.2 1964.9h16M1235.6 1842.8V1952.9M1227.6 1842.8h16M1227.6 1952.9h16M1317 1890.9V1942.1M1309 1890.9h16M1309 1942.1h16M1398.3 1850.4V1940.3M1390.3 1850.4h16M1390.3 1940.3h16M1479.7 1863.4V1932.2M1471.7 1863.4h16M1471.7 1932.2h16M1561 1912.8V1970.3M1553 1912.8h16M1553 1970.3h16M1642.3 1975.2V1994.9M1634.3 1975.2h16M1634.3 1994.9h16M1723.7 1940.7V1988.9M1715.7 1940.7h16M1715.7 1988.9h16"/>
<path class="eb" d="M1072.9 1796.6V1899.8M1064.9 1796.6h16M1064.9 1899.8h16M1154.2 1837.4V1928.3M1146.2 1837.4h16M1146.2 1928.3h16M1235.6 1923.1V1967.4M1227.6 1923.1h16M1227.6 1967.4h16M1317 1817.1V1930.1M1309 1817.1h16M1309 1930.1h16M1398.3 1919.9V1959.3M1390.3 1919.9h16M1390.3 1959.3h16M1479.7 1905.9V1942.8M1471.7 1905.9h16M1471.7 1942.8h16M1561 1931.2V1968.1M1553 1931.2h16M1553 1968.1h16M1642.3 1957.3V1983.8M1634.3 1957.3h16M1634.3 1983.8h16M1723.7 1965.4V1985.1M1715.7 1965.4h16M1715.7 1985.1h16"/>
<circle class="om" cx="1072.9" cy="1817" r="7.7"/>
<circle class="om" cx="1154.2" cy="1912.8" r="7.7"/>
<circle class="om" cx="1235.6" cy="1857.5" r="7.7"/>
<circle class="om" cx="1317" cy="1916.5" r="7.7"/>
<circle class="om" cx="1398.3" cy="1870.5" r="7.7"/>
<circle class="om" cx="1479.7" cy="1881.6" r="7.7"/>
<circle class="om" cx="1561" cy="1968.4" r="7.7"/>
<circle class="om" cx="1642.3" cy="1985.1" r="7.7"/>
<circle class="om" cx="1723.7" cy="1987.5" r="7.7"/>
<circle class="om" cx="1072.9" cy="1769.5" r="7.7"/>
<circle class="om" cx="1154.2" cy="1925.6" r="7.7"/>
<circle class="om" cx="1235.6" cy="1933.7" r="7.7"/>
<circle class="om" cx="1317" cy="1946.5" r="7.7"/>
<circle class="om" cx="1398.3" cy="1905.9" r="7.7"/>
<circle class="om" cx="1479.7" cy="1926.1" r="7.7"/>
<circle class="om" cx="1561" cy="1968.4" r="7.7"/>
<circle class="om" cx="1642.3" cy="1982.6" r="7.7"/>
<circle class="om" cx="1723.7" cy="1994.9" r="7.7"/>
<circle class="om" cx="1072.9" cy="1785.7" r="7.7"/>
<circle class="om" cx="1154.2" cy="1943.8" r="7.7"/>
<circle class="om" cx="1235.6" cy="1897.8" r="7.7"/>
<circle class="om" cx="1317" cy="1916.5" r="7.7"/>
<circle class="om" cx="1398.3" cy="1895.4" r="7.7"/>
<circle class="om" cx="1479.7" cy="1897.8" r="7.7"/>
<circle class="om" cx="1561" cy="1941.6" r="7.7"/>
<circle class="om" cx="1642.3" cy="1985.1" r="7.7"/>
<circle class="om" cx="1723.7" cy="1964.8" r="7.7"/>
<circle class="fm" cx="1071.4" cy="1848.2" r="11.4"/>
<circle class="fm" cx="1152.8" cy="1882.8" r="11.4"/>
<circle class="fm" cx="1234.1" cy="1945.3" r="11.4"/>
<circle class="fm" cx="1315.5" cy="1873.6" r="11.4"/>
<circle class="fm" cx="1396.8" cy="1939.6" r="11.4"/>
<circle class="fm" cx="1478.2" cy="1924.4" r="11.4"/>
<circle class="fm" cx="1559.5" cy="1949.7" r="11.4"/>
<circle class="fm" cx="1640.8" cy="1970.6" r="11.4"/>
<circle class="fm" cx="1722.2" cy="1975.2" r="11.4"/>
<path class="ax" d="M1020.2 1518.1H1033.9V2069.2M1020.2 2058.8H1766.2V2069.2M1020.2 1567.3H1033.9M1020.2 1616.4H1033.9M1020.2 1665.6H1033.9M1020.2 1714.7H1033.9M1020.2 1763.9H1033.9M1020.2 1813H1033.9M1020.2 1862.2H1033.9M1020.2 1911.3H1033.9M1020.2 1960.5H1033.9M1020.2 2009.6H1033.9M1115.3 2058.8V2069.2M1196.6 2058.8V2069.2M1278 2058.8V2069.2M1359.4 2058.8V2069.2M1440.7 2058.8V2069.2M1522.1 2058.8V2069.2M1603.5 2058.8V2069.2M1684.8 2058.8V2069.2"/>
<text class="t" text-anchor="end" transform="translate(1000.4 1528.7) scale(1 1.075)">2.7</text>
<text class="t" text-anchor="end" transform="translate(1000.4 1577.9) scale(1 1.075)">2.5</text>
<text class="t" text-anchor="end" transform="translate(1000.4 1627) scale(1 1.075)">2.3</text>
<text class="t" text-anchor="end" transform="translate(1000.4 1676.2) scale(1 1.075)">2.1</text>
<text class="t" text-anchor="end" transform="translate(1000.4 1725.3) scale(1 1.075)">1.9</text>
<text class="t" text-anchor="end" transform="translate(1000.4 1774.5) scale(1 1.075)">1.7</text>
<text class="t" text-anchor="end" transform="translate(1000.4 1823.6) scale(1 1.075)">1.5</text>
<text class="t" text-anchor="end" transform="translate(1000.4 1872.8) scale(1 1.075)">1.3</text>
<text class="t" text-anchor="end" transform="translate(1000.4 1921.9) scale(1 1.075)">1.1</text>
<text class="t" text-anchor="end" transform="translate(1000.4 1971.1) scale(1 1.075)">.9</text>
<text class="t" text-anchor="end" transform="translate(1000.4 2020.2) scale(1 1.075)">.7</text>
<text class="t" text-anchor="end" transform="translate(1000.4 2069.4) scale(1 1.075)">.5</text>
<text class="t" text-anchor="middle" transform="translate(1072.9 2111.6) scale(1 1.075)">1</text>
<text class="t" text-anchor="middle" transform="translate(1154.2 2111.6) scale(1 1.075)">2</text>
<text class="t" text-anchor="middle" transform="translate(1235.6 2111.6) scale(1 1.075)">3</text>
<text class="t" text-anchor="middle" transform="translate(1317 2111.6) scale(1 1.075)">4</text>
<text class="t" text-anchor="middle" transform="translate(1398.3 2111.6) scale(1 1.075)">5</text>
<text class="t" text-anchor="middle" transform="translate(1479.7 2111.6) scale(1 1.075)">6</text>
<text class="t" text-anchor="middle" transform="translate(1561 2111.6) scale(1 1.075)">7</text>
<text class="t" text-anchor="middle" transform="translate(1642.3 2111.6) scale(1 1.075)">8</text>
<text class="t" text-anchor="middle" transform="translate(1723.7 2111.6) scale(1 1.075)">9</text>
</g>
<g>
<path class="ln" stroke-width="6" stroke-linecap="round" d="M508.8 147.7H526.7M549.6 147.7h.01M576.4 147.7H590.4M613.3 147.7h.01"/>
<path class="ln" stroke-width="6" stroke-linecap="round" d="M508.8 220.5H520.6M532.2 220.5H544M578.6 220.5H590.4M601.6 220.5H613.8"/>
<path class="ln" stroke-width="6.2" stroke-linecap="round" d="M509.3 293.8h.01M521 293.8h.01M532.4 293.8h.01M544.1 293.8h.01M578.9 293.8h.01M590.3 293.8h.01M601.8 293.8h.01M613.5 293.8h.01"/>
<path class="ln" stroke-width="10.5" stroke-linecap="round" d="M509 366.8H617.2"/>
<circle cx="562.9" cy="147.7" r="10.8" fill="#fff" stroke="#9a9a9a" stroke-width="2.4"/>
<circle cx="562.9" cy="220.5" r="10.8" fill="#fff" stroke="#9a9a9a" stroke-width="2.4"/>
<circle cx="562.9" cy="293.8" r="10.8" fill="#fff" stroke="#9a9a9a" stroke-width="2.4"/>
<circle class="fm" cx="563.2" cy="366.8" r="13.6"/>
<text class="lt" x="629.8" y="161.3" textLength="270.4" lengthAdjust="spacing">Nonrepeated1</text>
<text class="lt" x="629.8" y="234.1" textLength="270.4" lengthAdjust="spacing">Nonrepeated2</text>
<text class="lt" x="629.8" y="307.4" textLength="270.4" lengthAdjust="spacing">Nonrepeated3</text>
<text class="lt" x="629.8" y="380.4">Repeated</text>
</g>
<text class="b" x="70.5" y="36.6" font-size="50">a</text>
<text class="b" x="948" y="36.6" font-size="50">b</text>
<text class="b" text-anchor="middle" font-size="47.5" transform="translate(38.8 1108.5) rotate(-90)">Reaction time (s)</text>
<text class="b" text-anchor="middle" font-size="47" x="508.9" y="2201.5">Serial Position</text>
<text class="b" text-anchor="middle" font-size="47" x="1393.3" y="2201.5">Serial Position</text>
</svg>
</body></html>
